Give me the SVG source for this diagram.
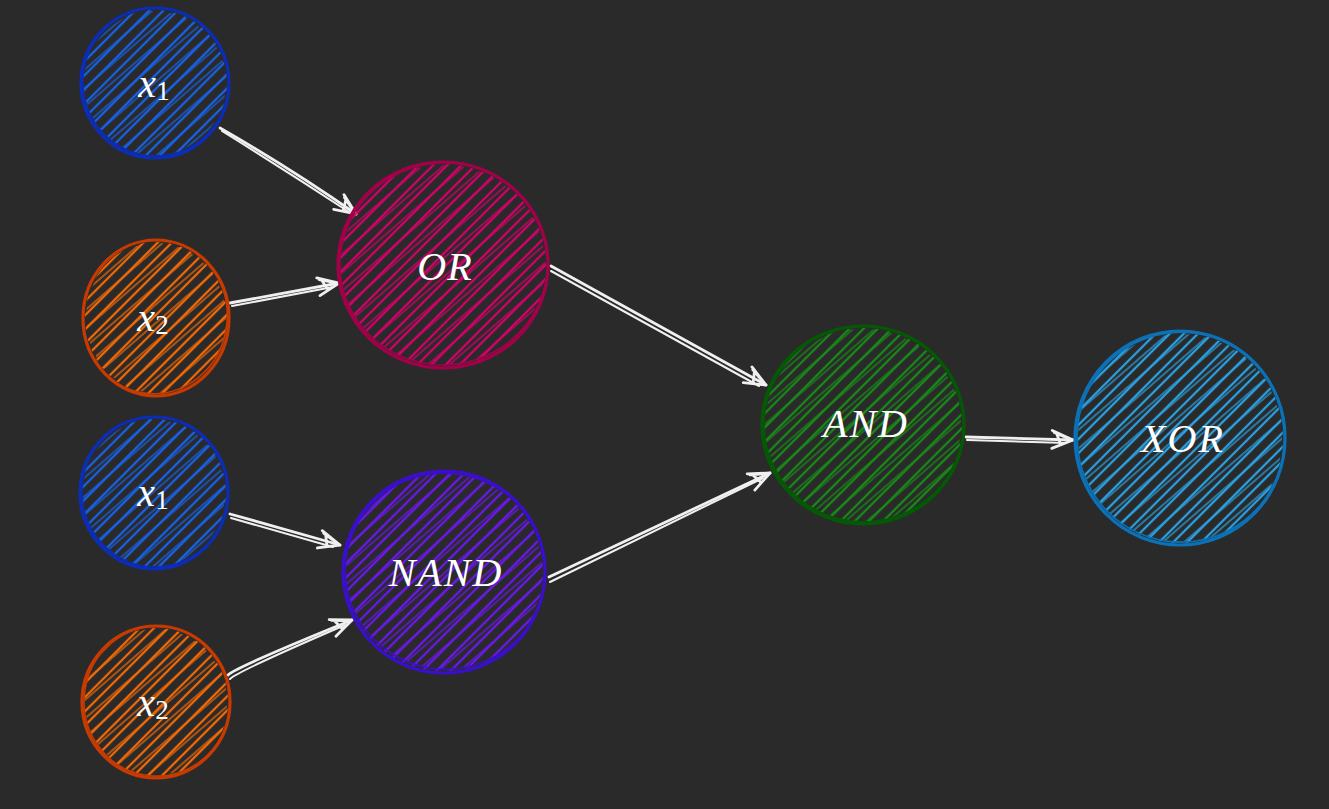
<svg xmlns="http://www.w3.org/2000/svg" width="1329" height="809" viewBox="0 0 1329 809">
<style>
  .bg{fill:#2a2a2a}
  .ol{fill:none;stroke-width:3.2}
  .ol2{fill:none;stroke-width:1.6}
  .lbl{font-family:"Liberation Serif","DejaVu Serif",serif;fill:#ffffff;font-size:40px;font-style:italic}
  .sub{font-style:normal;font-size:27px}
  .conn path{fill:none;stroke:#f0f0f0;stroke-linecap:round;stroke-linejoin:round}
  .conn .m{stroke-width:2.8}
  .conn .s{stroke-width:2}
  .blue .ol,.blue .ol2{stroke:#0b2db8}
  .orange .ol,.orange .ol2{stroke:#c73a00}
  .pink .ol,.pink .ol2{stroke:#a3004a}
  .violet .ol,.violet .ol2{stroke:#3a0fcc}
  .green .ol,.green .ol2{stroke:#045a04}
  .cyan .ol,.cyan .ol2{stroke:#0b72b8}
</style>
<defs>
  <pattern id="hBlue" width="10" height="10" patternUnits="userSpaceOnUse" patternTransform="rotate(45)"><line x1="3" y1="0" x2="3" y2="10" stroke="#1662ea" stroke-width="2.2"/></pattern>
  <pattern id="hBlue2" width="14" height="14" patternUnits="userSpaceOnUse" patternTransform="rotate(49) translate(7 0)"><line x1="3" y1="0" x2="3" y2="14" stroke="#1662ea" stroke-width="1.3"/></pattern>
  <pattern id="hOrange" width="10" height="10" patternUnits="userSpaceOnUse" patternTransform="rotate(45)"><line x1="3" y1="0" x2="3" y2="10" stroke="#f56a05" stroke-width="2.2"/></pattern>
  <pattern id="hOrange2" width="14" height="14" patternUnits="userSpaceOnUse" patternTransform="rotate(49) translate(7 0)"><line x1="3" y1="0" x2="3" y2="14" stroke="#f56a05" stroke-width="1.3"/></pattern>
  <pattern id="hPink" width="10" height="10" patternUnits="userSpaceOnUse" patternTransform="rotate(45)"><line x1="3" y1="0" x2="3" y2="10" stroke="#d6006b" stroke-width="2.2"/></pattern>
  <pattern id="hPink2" width="14" height="14" patternUnits="userSpaceOnUse" patternTransform="rotate(49) translate(7 0)"><line x1="3" y1="0" x2="3" y2="14" stroke="#d6006b" stroke-width="1.3"/></pattern>
  <pattern id="hViolet" width="10" height="10" patternUnits="userSpaceOnUse" patternTransform="rotate(45)"><line x1="3" y1="0" x2="3" y2="10" stroke="#6c16f0" stroke-width="2.2"/></pattern>
  <pattern id="hViolet2" width="14" height="14" patternUnits="userSpaceOnUse" patternTransform="rotate(49) translate(7 0)"><line x1="3" y1="0" x2="3" y2="14" stroke="#6c16f0" stroke-width="1.3"/></pattern>
  <pattern id="hGreen" width="10" height="10" patternUnits="userSpaceOnUse" patternTransform="rotate(45)"><line x1="3" y1="0" x2="3" y2="10" stroke="#168c16" stroke-width="2.2"/></pattern>
  <pattern id="hGreen2" width="14" height="14" patternUnits="userSpaceOnUse" patternTransform="rotate(49) translate(7 0)"><line x1="3" y1="0" x2="3" y2="14" stroke="#168c16" stroke-width="1.3"/></pattern>
  <pattern id="hCyan" width="10" height="10" patternUnits="userSpaceOnUse" patternTransform="rotate(45)"><line x1="3" y1="0" x2="3" y2="10" stroke="#29a2e4" stroke-width="2.2"/></pattern>
  <pattern id="hCyan2" width="14" height="14" patternUnits="userSpaceOnUse" patternTransform="rotate(49) translate(7 0)"><line x1="3" y1="0" x2="3" y2="14" stroke="#29a2e4" stroke-width="1.3"/></pattern>
  <marker id="ah" viewBox="-26 -14 30 28" markerWidth="30" markerHeight="28" refX="0" refY="0" orient="auto" markerUnits="userSpaceOnUse">
    <path d="M-21,-9 L0,0 L-21,9 M-19,-7 L-1,0 M-17,-7 L-12,5" fill="none" stroke="#f0f0f0" stroke-width="2.8" stroke-linecap="round" stroke-linejoin="round"/>
  </marker>
</defs>
<rect class="bg" x="0" y="0" width="1329" height="809"/>

<g id="connectors" class="conn">
  <path class="m" d="M220,128 Q290,168 356,214" marker-end="url(#ah)"/>
  <path class="s" d="M222,131 Q288,172 349,212"/>
  <path class="m" d="M230,303 L339,283" marker-end="url(#ah)"/>
  <path class="s" d="M232,306 L333,287"/>
  <path class="m" d="M551,266 L766,385" marker-end="url(#ah)"/>
  <path class="s" d="M551,271 L759,386"/>
  <path class="m" d="M230,514 L340,545" marker-end="url(#ah)"/>
  <path class="s" d="M231,518 L333,547"/>
  <path class="m" d="M228,675 Q234,668 352,620" marker-end="url(#ah)"/>
  <path class="s" d="M230,679 Q236,672 345,625"/>
  <path class="m" d="M549,577 L770,473" marker-end="url(#ah)"/>
  <path class="s" d="M550,582 L763,478"/>
  <path class="m" d="M966,437 L1073,440" marker-end="url(#ah)"/>
  <path class="s" d="M967,440 L1066,443"/>
</g>

<g id="node-x1-top" class="blue">
  <ellipse cx="155" cy="83" rx="72" ry="73" fill="url(#hBlue)"/>
  <ellipse cx="155" cy="83" rx="71" ry="72" fill="url(#hBlue2)"/>
  <ellipse class="ol" cx="155" cy="83" rx="74" ry="75"/>
  <ellipse class="ol2" cx="156" cy="82" rx="73" ry="74" transform="rotate(-6 155 83)"/>
  <text class="lbl" x="154" y="97" text-anchor="middle">x<tspan class="sub" dy="3">1</tspan></text>
</g>

<g id="node-x2-top" class="orange">
  <ellipse cx="156" cy="318" rx="71" ry="76" fill="url(#hOrange)"/>
  <ellipse cx="156" cy="318" rx="70" ry="75" fill="url(#hOrange2)"/>
  <ellipse class="ol" cx="156" cy="318" rx="73" ry="78"/>
  <ellipse class="ol2" cx="155" cy="317" rx="72" ry="77" transform="rotate(8 156 318)"/>
  <text class="lbl" x="153" y="331" text-anchor="middle">x<tspan class="sub" dy="3">2</tspan></text>
</g>

<g id="node-x1-bottom" class="blue">
  <ellipse cx="154" cy="493" rx="72" ry="74" fill="url(#hBlue)"/>
  <ellipse cx="154" cy="493" rx="71" ry="73" fill="url(#hBlue2)"/>
  <ellipse class="ol" cx="154" cy="493" rx="74" ry="76"/>
  <ellipse class="ol2" cx="155" cy="492" rx="73" ry="75" transform="rotate(-5 154 493)"/>
  <text class="lbl" x="153" y="506" text-anchor="middle">x<tspan class="sub" dy="3">1</tspan></text>
</g>

<g id="node-x2-bottom" class="orange">
  <ellipse cx="156" cy="702" rx="72" ry="74" fill="url(#hOrange)"/>
  <ellipse cx="156" cy="702" rx="71" ry="73" fill="url(#hOrange2)"/>
  <ellipse class="ol" cx="156" cy="702" rx="74" ry="76"/>
  <ellipse class="ol2" cx="157" cy="701" rx="73" ry="75" transform="rotate(7 156 702)"/>
  <text class="lbl" x="153" y="716" text-anchor="middle">x<tspan class="sub" dy="3">2</tspan></text>
</g>

<g id="node-or" class="pink">
  <ellipse cx="443" cy="265" rx="103" ry="101" fill="url(#hPink)"/>
  <ellipse cx="443" cy="265" rx="102" ry="100" fill="url(#hPink2)"/>
  <ellipse class="ol" cx="443" cy="265" rx="105" ry="103"/>
  <ellipse class="ol2" cx="444" cy="264" rx="104" ry="101" transform="rotate(-8 443 265)"/>
  <text class="lbl" x="445" y="280" text-anchor="middle" letter-spacing="1">OR</text>
</g>

<g id="node-nand" class="violet">
  <ellipse cx="444" cy="572" rx="99" ry="99" fill="url(#hViolet)"/>
  <ellipse cx="444" cy="572" rx="98" ry="98" fill="url(#hViolet2)"/>
  <ellipse class="ol" cx="444" cy="572" rx="101" ry="101"/>
  <ellipse class="ol2" cx="445" cy="571" rx="100" ry="98" transform="rotate(10 444 572)"/>
  <text class="lbl" x="446" y="586" text-anchor="middle" letter-spacing="2">NAND</text>
</g>

<g id="node-and" class="green">
  <ellipse cx="863" cy="425" rx="99" ry="97" fill="url(#hGreen)"/>
  <ellipse cx="863" cy="425" rx="98" ry="96" fill="url(#hGreen2)"/>
  <ellipse class="ol" cx="863" cy="425" rx="101" ry="99"/>
  <ellipse class="ol2" cx="864" cy="424" rx="100" ry="98" transform="rotate(-6 863 425)"/>
  <text class="lbl" x="866" y="437" text-anchor="middle" letter-spacing="2">AND</text>
</g>

<g id="node-xor" class="cyan">
  <ellipse cx="1180" cy="438" rx="103" ry="105" fill="url(#hCyan)"/>
  <ellipse cx="1180" cy="438" rx="102" ry="104" fill="url(#hCyan2)"/>
  <ellipse class="ol" cx="1180" cy="438" rx="105" ry="107"/>
  <ellipse class="ol2" cx="1181" cy="437" rx="104" ry="105" transform="rotate(7 1180 438)"/>
  <text class="lbl" x="1183" y="452" text-anchor="middle" letter-spacing="2">XOR</text>
</g>
</svg>
